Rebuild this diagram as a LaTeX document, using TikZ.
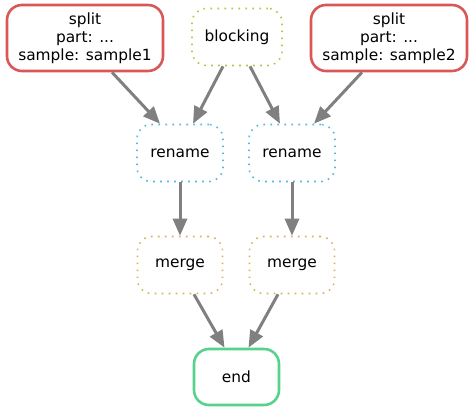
\documentclass[tikz,border=0pt]{standalone}
\usepackage{fontspec}
\setmainfont{DejaVu Sans}
\usepackage{xcolor}
\usepackage{tikz}
\usetikzlibrary{arrows.meta,backgrounds}
\definecolor{splitcol}{RGB}{217,87,87}
\definecolor{blockcol}{RGB}{170,205,70}
\definecolor{renamecol}{RGB}{87,185,217}
\definecolor{mergecol}{RGB}{217,178,87}
\definecolor{endcol}{RGB}{87,210,140}
\definecolor{edgecol}{RGB}{128,128,128}

\begin{document}
\begin{tikzpicture}[x=1pt,y=1pt,
  every node/.style={font=\fontsize{15.4}{18}\selectfont, align=center, inner sep=0pt, rounded corners=15pt},
  job/.style={draw, line width=2.6pt},
  dotjob/.style={draw, line width=1.6pt, dash pattern=on 1.6pt off 5.4pt, rounded corners=14pt},
  edge/.style={draw=edgecol, line width=3pt, -{Triangle[length=17pt,width=14pt]}}]
\useasboundingbox (0,0) rectangle (474,412);
% jobs
\node[job, draw=splitcol, minimum width=156, minimum height=66] (split1) at (85,374) {split\\part: ...\\sample: sample1};
\node[dotjob, draw=blockcol, minimum width=90, minimum height=57] (blocking) at (237,375) {blocking};
\node[job, draw=splitcol, minimum width=156, minimum height=66] (split2) at (389,374) {split\\part: ...\\sample: sample2};
\node[dotjob, draw=renamecol, minimum width=86, minimum height=57] (rename1) at (180,259) {rename};
\node[dotjob, draw=renamecol, minimum width=86, minimum height=57] (rename2) at (292,259) {rename};
\node[dotjob, draw=mergecol, minimum width=85, minimum height=57] (merge1) at (180,147) {merge};
\node[dotjob, draw=mergecol, minimum width=85, minimum height=57] (merge2) at (292,147) {merge};
\node[job, draw=endcol, minimum width=85, minimum height=56] (end) at (236.5,35) {end};
% edges
\draw[edge] ([xshift=27pt]split1.south) -- ([xshift=-20pt]rename1.north);
\draw[edge] ([xshift=-14pt]blocking.south) -- ([xshift=13pt]rename1.north);
\draw[edge] ([xshift=13pt]blocking.south) -- ([xshift=-12pt]rename2.north);
\draw[edge] ([xshift=-27pt]split2.south) -- ([xshift=22pt]rename2.north);
\draw[edge] (rename1) -- (merge1);
\draw[edge] (rename2) -- (merge2);
\draw[edge] ([xshift=14pt]merge1.south) -- ([xshift=-12pt]end.north);
\draw[edge] ([xshift=-14pt]merge2.south) -- ([xshift=12pt]end.north);
\end{tikzpicture}
\end{document}
